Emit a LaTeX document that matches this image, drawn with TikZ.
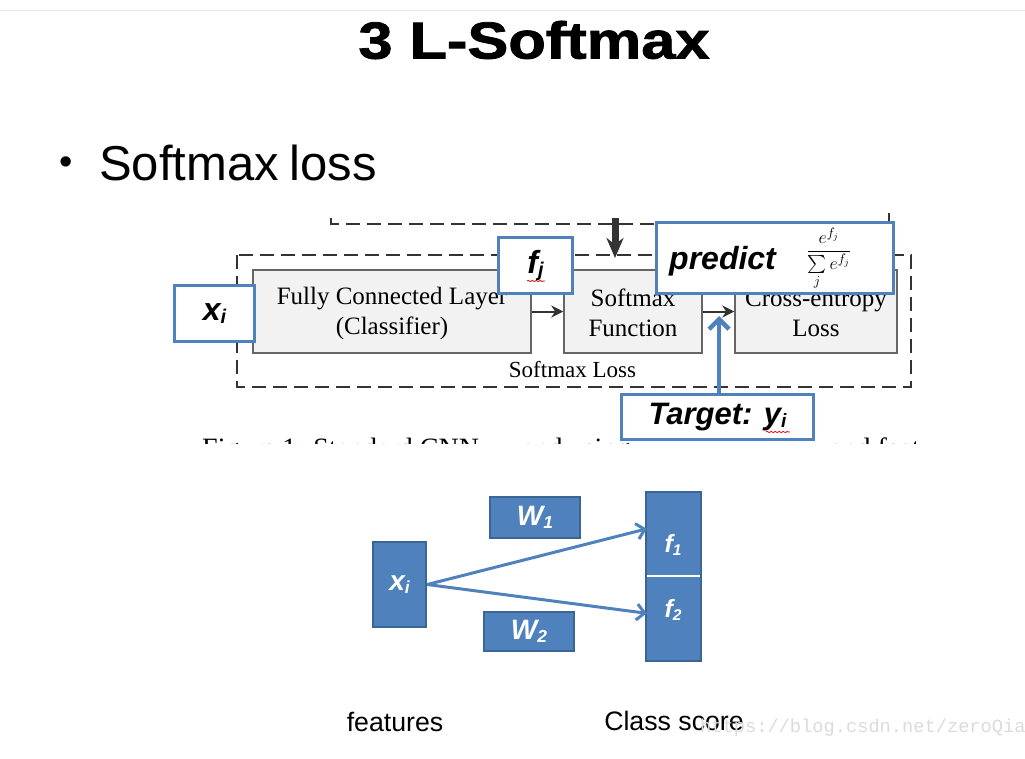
\documentclass[tikz,border=0pt]{standalone}
\usepackage{fontspec}
\usepackage{amsmath}
\usepackage{tikz}
\usetikzlibrary{arrows.meta,decorations.pathmorphing}
\setmainfont{Liberation Sans}
\newfontfamily\papertext{Liberation Serif}
\newfontfamily\marktext{Liberation Mono}
\newcommand{\idx}[1]{\raisebox{-.1em}{\scalebox{.62}{#1}}}
\definecolor{callblue}{HTML}{4F81BD}
\definecolor{edgeblue}{HTML}{3A6596}
\definecolor{panelgray}{HTML}{F2F2F2}
\definecolor{panelline}{HTML}{666666}
\definecolor{dashgray}{HTML}{333333}

\begin{document}
\begin{tikzpicture}[x=1pt,y=-1pt]
\tikzset{panel/.style = {shape=rectangle,draw=panelline,fill=panelgray,line width=1.5pt,inner sep=0pt},
    paneltext/.style = {inner sep=0pt,align=center,font=\papertext\fontsize{25}{30}\selectfont},
    callout/.style = {shape=rectangle,draw=callblue,fill=white,line width=3pt,inner sep=0pt,font=\bfseries\itshape\fontsize{32}{36}\selectfont},
    block/.style = {shape=rectangle,draw=edgeblue,fill=callblue,line width=2.5pt,inner sep=0pt,text=white,font=\bfseries\itshape\fontsize{28}{30}\selectfont},
    tag/.style = {inner sep=0pt,font=\fontsize{26.7}{30}\selectfont},
    squiggle/.style = {draw=red,line width=.7pt,decorate,decoration={snake,amplitude=.7pt,segment length=4pt}}}
\useasboundingbox (0,0) rectangle (1025,758);
\draw[gray!20,line width=1pt] (0,10) -- (1025,10);
% headings
\node[inner sep=0pt,font=\bfseries\fontsize{52}{58}\selectfont\addfontfeature{FakeBold=1.5}] (title) at (534,40) {\scalebox{1.18}[1]{3 L-Softmax}};
\node[inner sep=0pt,font=\fontsize{38}{44}\selectfont] (bullet) at (66,166) {\textbullet};
\node[inner sep=0pt,anchor=west,font=\fontsize{49}{54}\selectfont] (head) at (99,163) {Softmax\hspace{-3pt} loss};
% dashed frames
\draw[dashgray,line width=2pt,dash pattern=on 14pt off 7pt] (331,218) -- (331,224) -- (660,224);
\draw[dashgray,line width=2pt] (889,213) -- (889,222);
\draw[dashgray,line width=2pt,dash pattern=on 14pt off 7pt] (237,255) rectangle (911,387);
\node[inner sep=0pt,font=\papertext\fontsize{23}{26}\selectfont] (lossname) at (572.5,370) {Softmax Loss};
% panels
\foreach \x/\w/\name/\txt in {392/278/fc/{Fully Connected Layer\\(Classifier)},633/138/softfn/{Softmax\\Function},816/162/cross/{Cross-entropy\\Loss}} {
    \node[panel,minimum width=\w pt,minimum height=83pt] (\name) at (\x,311.5) {};
    \node[paneltext] (\name txt) at (\x,313) {\txt};
}
\foreach \i/\j in {fc/softfn,softfn/cross} {
    \draw[-{Stealth[length=12pt,width=12pt]},black!80,line width=2pt] (\i) -- (\j);
}
\coordinate (dropstart) at (615,218);
\coordinate (dropend) at (615,258);
\draw[-{Stealth[length=20pt,width=17pt]},black!80,line width=7pt] (dropstart) -- (dropend);
% caption, cut off by the slide
\begin{scope}
\clip (190,425) rectangle (930,443);
\foreach \x/\name/\txt in {202/capleft/{Figure 1: Standard CNN},522/capmid/{and using},830/capright/{and feat}} {
    \node[inner sep=0pt,anchor=north west,font=\papertext\fontsize{28}{30}\selectfont] (\name) at (\x,437.5) {\txt};
}
\end{scope}
% callouts
\node[callout,minimum width=80pt,minimum height=56pt] (xi) at (214.5,313.5) {\raisebox{-3pt}{x\idx{i}}};
\node[callout,minimum width=74pt,minimum height=56pt] (fj) at (535.5,265.5) {\raisebox{-2pt}{f\idx{j}}};
\node[callout,minimum width=237pt,minimum height=71pt] (predict) at (775,258) {};
\node[inner sep=0pt,anchor=west,font=\bfseries\itshape\fontsize{32}{36}\selectfont] (predname) at (669,261) {predict};
\node[inner sep=0pt] (predfrac) at (829,259) {\scalebox{1.25}{\fontsize{15}{18}\selectfont$\dfrac{e^{f_j}}{\sum\limits_j e^{f_j}}$}};
\node[callout,minimum width=192pt,minimum height=45pt,font=\bfseries\itshape\fontsize{31}{36}\selectfont] (target) at (717.5,417) {\raisebox{-2pt}{Target: y\idx{i}}};
\coordinate (targettip) at (719,316);
\draw[-{Straight Barb[length=10pt,width=20pt]},callblue,line width=4.5pt] (target.north -| targettip) -- (targettip);
\draw[squiggle] (527,281) -- (545,281);
\draw[squiggle] (766,432) -- (790,432);
% lower graph
\foreach \x/\y/\w/\h/\name/\txt in {399.5/584.5/53/85/lowx/{x\idx{i}},535/517.5/90/41/wone/{W\idx{1}},529/631.5/90/39/wtwo/{W\idx{2}}} {
    \node[block,minimum width=\w pt,minimum height=\h pt] (\name) at (\x,\y) {\txt};
}
\node[block,minimum width=55pt,minimum height=169pt] (fcol) at (673.5,576.5) {};
\node[inner sep=0pt,minimum width=53pt,minimum height=84pt] (fone) at (673.5,534) {};
\node[inner sep=0pt,minimum width=53pt,minimum height=84pt] (ftwo) at (673.5,619) {};
\node[inner sep=0pt,text=white,font=\bfseries\itshape\fontsize{25}{28}\selectfont] (fonetxt) at (673,545) {f\idx{1}};
\node[inner sep=0pt,text=white,font=\bfseries\itshape\fontsize{25}{28}\selectfont] (ftwotxt) at (673,610) {f\idx{2}};
\draw[white,line width=2.5pt] (fone.south west) -- (fone.south east);
\foreach \i/\j in {lowx/fone.169,lowx/ftwo.168} {
    \draw[-{Straight Barb[length=8pt,width=16pt]},callblue,line width=3pt] (\i.east) -- (\j);
}
% footer
\node[tag] (features) at (395,722) {features};
\node[tag] (classscore) at (674,721) {Class score};
\node[inner sep=0pt,anchor=west,text=gray!28,font=\marktext\fontsize{18.7}{22}\selectfont] (mark) at (700,728) {https://blog.csdn.net/zeroQia};
\end{tikzpicture}
\end{document}
